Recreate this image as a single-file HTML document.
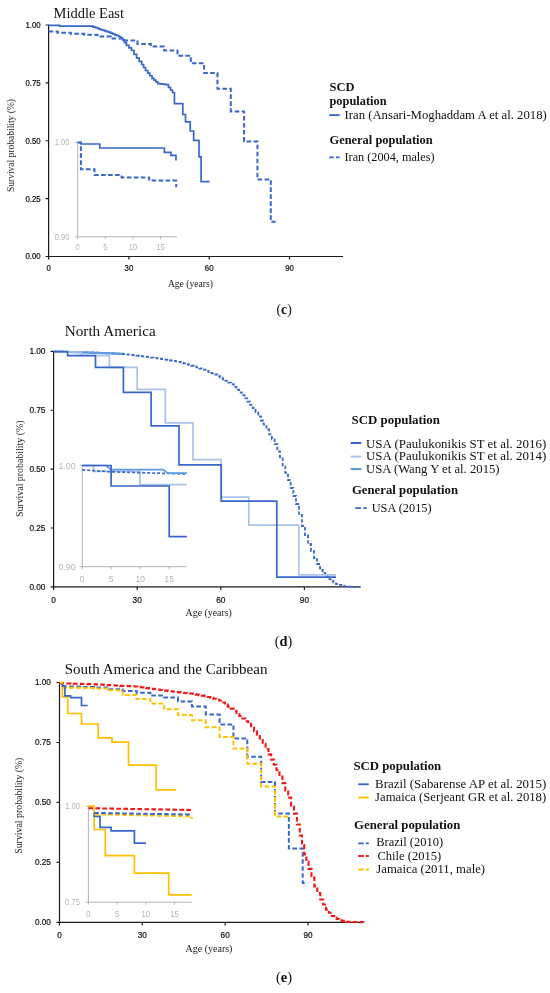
<!DOCTYPE html>
<html lang="en">
<head>
<meta charset="utf-8">
<title>Survival curves</title>
<style>
html,body{margin:0;padding:0;background:#fff;}
body{width:550px;height:993px;overflow:hidden;}
svg{display:block;}
</style>
</head>
<body>
<svg width="550" height="993" viewBox="0 0 550 993" stroke-linejoin="miter">
<rect width="550" height="993" fill="#ffffff"/>
<text x="53.5" y="18.2" font-family='"Liberation Serif", serif' font-size="14.5" fill="#111" textLength="70.5" lengthAdjust="spacingAndGlyphs">Middle East</text>
<path d="M48.6 24.5V256.5H343M45.6 256.5H48.6M45.6 198.62H48.6M45.6 140.75H48.6M45.6 82.88H48.6M45.6 25H48.6M48.6 256.5V259.5M128.91 256.5V259.5M209.22 256.5V259.5M289.53 256.5V259.5" fill="none" stroke="#1a1a1a" stroke-width="1.2"/>
<text x="25.38" y="259.46" font-family='"Liberation Sans", sans-serif' font-size="8.5" fill="#111" textLength="15.22" lengthAdjust="spacingAndGlyphs" stroke="#111" stroke-width="0.22">0.00</text>
<text x="25.38" y="201.58" font-family='"Liberation Sans", sans-serif' font-size="8.5" fill="#111" textLength="15.22" lengthAdjust="spacingAndGlyphs" stroke="#111" stroke-width="0.22">0.25</text>
<text x="25.38" y="143.71" font-family='"Liberation Sans", sans-serif' font-size="8.5" fill="#111" textLength="15.22" lengthAdjust="spacingAndGlyphs" stroke="#111" stroke-width="0.22">0.50</text>
<text x="25.38" y="85.83" font-family='"Liberation Sans", sans-serif' font-size="8.5" fill="#111" textLength="15.22" lengthAdjust="spacingAndGlyphs" stroke="#111" stroke-width="0.22">0.75</text>
<text x="25.38" y="27.96" font-family='"Liberation Sans", sans-serif' font-size="8.5" fill="#111" textLength="15.22" lengthAdjust="spacingAndGlyphs" stroke="#111" stroke-width="0.22">1.00</text>
<text x="46.43" y="270.7" font-family='"Liberation Sans", sans-serif' font-size="8.5" fill="#111" textLength="4.35" lengthAdjust="spacingAndGlyphs" stroke="#111" stroke-width="0.22">0</text>
<text x="124.56" y="270.7" font-family='"Liberation Sans", sans-serif' font-size="8.5" fill="#111" textLength="8.7" lengthAdjust="spacingAndGlyphs" stroke="#111" stroke-width="0.22">30</text>
<text x="204.87" y="270.7" font-family='"Liberation Sans", sans-serif' font-size="8.5" fill="#111" textLength="8.7" lengthAdjust="spacingAndGlyphs" stroke="#111" stroke-width="0.22">60</text>
<text x="285.18" y="270.7" font-family='"Liberation Sans", sans-serif' font-size="8.5" fill="#111" textLength="8.7" lengthAdjust="spacingAndGlyphs" stroke="#111" stroke-width="0.22">90</text>
<text x="167.9" y="286.6" font-family='"Liberation Serif", serif' font-size="9.5" fill="#222" textLength="45" lengthAdjust="spacingAndGlyphs">Age (years)</text>
<text transform="translate(14.2 145.5) rotate(-90)" x="-46.5" y="0" font-family='"Liberation Serif", serif' font-size="9.3" fill="#222" textLength="93" lengthAdjust="spacingAndGlyphs">Survival probability (%)</text>
<path d="M48.6 31.5V31.5H57.5V32.7H70.83V33.8H84.16V34.8H97.49V36.5H110.82V38.6H124.15V40.6H137.48V43.9H150.81V46.5H164.14V50.5H177.47V55.7H190.8V63.2H204.13V72.9H217.46V88.7H230.79V111.4H244.12V141.5H257.45V179.5H270.78V221.7H275.6" fill="none" stroke="#3867c9" stroke-width="2.0" stroke-dasharray="4.6 2.4"/>
<path d="M48.6 25.4H50.68V25.4H52.76V25.4H54.84V25.4H56.92V25.4H59V25.4H59.5V26.1H61.74V26.1H63.97V26.1H66.21V26.1H68.44V26.1H70.68V26.1H72.91V26.1H75.15V26.1H77.39V26.1H79.62V26.1H81.86V26.1H84.09V26.1H86.33V26.1H88.56V26.1H90.8V26.1H93.33V27.03H95.87V27.97H98.4V28.9H100.44V29.56H102.48V30.22H104.52V30.88H106.56V31.54H108.6V32.2H110.64V33.06H112.68V33.92H114.72V34.78H116.76V35.64H118.8V36.5H120.7V38.15H122.6V39.8H124.5V42.6H126.4V45.4H128.95V47.95H131.5V50.5H134.05V54.35H136.6V58.2H139.15V61.35H141.7V64.5H143.6V67.5H145.5V70.5H147.67V73.13H149.83V75.77H152V78.4H153.93V80.13H155.87V81.87H157.8V83.6H159.95V83.85H162.1V84.1H164.25V84.35H166.4V84.6H168.45V87.3H170.5V90H172.45V92.5H174.4V95V103.6H182.8V114.5H185.5V121.8H190.2V123.3V131H193.7V132V140.3H199V156.9H201.1V181.6H209.6" fill="none" stroke="#3867c9" stroke-width="1.7"/>
<path d="M77.7 142.5V236.8H177.06M75.2 142.5H77.7M75.2 236.8H77.7M77.7 236.8V239.3M105.3 236.8V239.3M132.9 236.8V239.3M160.5 236.8V239.3" fill="none" stroke="#b4b4b4" stroke-width="1"/>
<text x="54.7" y="145.28" font-family='"Liberation Sans", sans-serif' font-size="8.3" fill="#b4b4b4" textLength="14.7" lengthAdjust="spacingAndGlyphs">1.00</text>
<text x="54.7" y="239.58" font-family='"Liberation Sans", sans-serif' font-size="8.3" fill="#b4b4b4" textLength="14.7" lengthAdjust="spacingAndGlyphs">0.90</text>
<text x="75.6" y="250.4" font-family='"Liberation Sans", sans-serif' font-size="8.3" fill="#b4b4b4" textLength="4.19" lengthAdjust="spacingAndGlyphs">0</text>
<text x="103.2" y="250.4" font-family='"Liberation Sans", sans-serif' font-size="8.3" fill="#b4b4b4" textLength="4.19" lengthAdjust="spacingAndGlyphs">5</text>
<text x="128.71" y="250.4" font-family='"Liberation Sans", sans-serif' font-size="8.3" fill="#b4b4b4" textLength="8.38" lengthAdjust="spacingAndGlyphs">10</text>
<text x="156.31" y="250.4" font-family='"Liberation Sans", sans-serif' font-size="8.3" fill="#b4b4b4" textLength="8.38" lengthAdjust="spacingAndGlyphs">15</text>
<path d="M77.7 142.5H80.9V144H99.8V148H164.4V152.4H171V155.3H176V160.5" fill="none" stroke="#3867c9" stroke-width="1.7"/>
<path d="M77.7 142.5H80.9V169.3H94.5V175.1H121.6V177.4H149.2V180.6H176.2V187.3" fill="none" stroke="#3867c9" stroke-width="2.0" stroke-dasharray="4.6 2.4"/>
<text x="329.5" y="90.9" font-family='"Liberation Serif", serif' font-size="12" fill="#111" font-weight="bold" textLength="25" lengthAdjust="spacingAndGlyphs">SCD</text>
<text x="329.5" y="104.5" font-family='"Liberation Serif", serif' font-size="12" fill="#111" font-weight="bold" textLength="57" lengthAdjust="spacingAndGlyphs">population</text>
<path d="M329.2 115.1H339.7" fill="none" stroke="#3867c9" stroke-width="1.9"/>
<text x="344.5" y="118.9" font-family='"Liberation Serif", serif' font-size="12" fill="#111" textLength="202.3" lengthAdjust="spacingAndGlyphs">Iran (Ansari-Moghaddam A et al. 2018)</text>
<text x="329.5" y="144.1" font-family='"Liberation Serif", serif' font-size="12" fill="#111" font-weight="bold" textLength="103.2" lengthAdjust="spacingAndGlyphs">General population</text>
<path d="M329.2 157.4H339.7" fill="none" stroke="#3867c9" stroke-width="1.9" stroke-dasharray="4.6 2.2"/>
<text x="344.5" y="160.5" font-family='"Liberation Serif", serif' font-size="12" fill="#111" textLength="90" lengthAdjust="spacingAndGlyphs">Iran (2004, males)</text>
<text x="276.5" y="314" font-family='"Liberation Serif", serif' font-size="14.3" fill="#111" textLength="15.2" lengthAdjust="spacingAndGlyphs">(<tspan font-weight="bold">c</tspan>)</text>
<text x="64.7" y="336.1" font-family='"Liberation Serif", serif' font-size="15" fill="#111" textLength="91" lengthAdjust="spacingAndGlyphs">North America</text>
<path d="M53.6 350.9V586.9H360.5M50.6 586.9H53.6M50.6 528.02H53.6M50.6 469.15H53.6M50.6 410.27H53.6M50.6 351.4H53.6M53.6 586.9V589.9M137.21 586.9V589.9M220.82 586.9V589.9M304.43 586.9V589.9" fill="none" stroke="#1a1a1a" stroke-width="1.2"/>
<text x="29.39" y="589.55" font-family='"Liberation Sans", sans-serif' font-size="9.0" fill="#111" textLength="16.11" lengthAdjust="spacingAndGlyphs" stroke="#111" stroke-width="0.22">0.00</text>
<text x="29.39" y="530.68" font-family='"Liberation Sans", sans-serif' font-size="9.0" fill="#111" textLength="16.11" lengthAdjust="spacingAndGlyphs" stroke="#111" stroke-width="0.22">0.25</text>
<text x="29.39" y="471.8" font-family='"Liberation Sans", sans-serif' font-size="9.0" fill="#111" textLength="16.11" lengthAdjust="spacingAndGlyphs" stroke="#111" stroke-width="0.22">0.50</text>
<text x="29.39" y="412.93" font-family='"Liberation Sans", sans-serif' font-size="9.0" fill="#111" textLength="16.11" lengthAdjust="spacingAndGlyphs" stroke="#111" stroke-width="0.22">0.75</text>
<text x="29.39" y="354.05" font-family='"Liberation Sans", sans-serif' font-size="9.0" fill="#111" textLength="16.11" lengthAdjust="spacingAndGlyphs" stroke="#111" stroke-width="0.22">1.00</text>
<text x="51.3" y="602.8" font-family='"Liberation Sans", sans-serif' font-size="9.0" fill="#111" textLength="4.6" lengthAdjust="spacingAndGlyphs" stroke="#111" stroke-width="0.22">0</text>
<text x="132.61" y="602.8" font-family='"Liberation Sans", sans-serif' font-size="9.0" fill="#111" textLength="9.21" lengthAdjust="spacingAndGlyphs" stroke="#111" stroke-width="0.22">30</text>
<text x="216.22" y="602.8" font-family='"Liberation Sans", sans-serif' font-size="9.0" fill="#111" textLength="9.21" lengthAdjust="spacingAndGlyphs" stroke="#111" stroke-width="0.22">60</text>
<text x="299.83" y="602.8" font-family='"Liberation Sans", sans-serif' font-size="9.0" fill="#111" textLength="9.21" lengthAdjust="spacingAndGlyphs" stroke="#111" stroke-width="0.22">90</text>
<text x="185.6" y="616.4" font-family='"Liberation Serif", serif' font-size="9.5" fill="#222" textLength="46.2" lengthAdjust="spacingAndGlyphs">Age (years)</text>
<text transform="translate(23 468.8) rotate(-90)" x="-48.25" y="0" font-family='"Liberation Serif", serif' font-size="9.3" fill="#222" textLength="96.5" lengthAdjust="spacingAndGlyphs">Survival probability (%)</text>
<path d="M53.8 351.6H56.58V351.67H59.37V351.74H62.15V351.81H64.94V351.88H67.72V351.95H70.51V352.02H73.29V352.08H76.08V352.15H78.86V352.22H81.65V352.29H84.43V352.36H87.22V352.43H90V352.5H92.73V352.61H95.45V352.72H98.18V352.83H100.91V352.94H103.64V353.05H106.36V353.15H109.09V353.26H111.82V353.37H114.55V353.48H117.27V353.59H120V353.7H122.7V354.03H125.4V354.36H128.1V354.69H130.8V355.01H133.5V355.34H136.2V355.67H138.9V356H141.82V356.38H144.73V356.77H147.65V357.15H150.57V357.53H153.48V357.92H156.4V358.3H159.12V358.74H161.85V359.18H164.57V359.61H167.3V360.05H170.03V360.49H172.75V360.93H175.47V361.36H178.2V361.8H180.8V362.59H183.4V363.37H186V364.16H188.6V364.94H191.2V365.73H193.8V366.51H196.4V367.3H199.42V368.5H202.43V369.7H205.45V370.9H208.47V372.1H211.48V373.3H214.5V374.5H217.25V376.05H220V377.6H222.72V379.25H225.45V380.9H228.18V382.55H230.9V384.2H233.62V386.93H236.35V389.65H239.08V392.38H241.8V395.1H244.55V398.38H247.3V401.65H250.05V404.93H252.8V408.2H255.53V412.3H258.25V416.4H260.98V420.5H263.7V424.6H266.43V429.5H269.15V434.4H271.88V439.3H274.6V444.2H277.3V451.3H280V458.4H282.67V465.6H285.33V472.8H288V480H290.67V488H293.33V496H296V504H299V515H302V526H305V535H308V544H311V551H314V558H317V564H320V570H322.67V573.07H325.33V576.13H328V579.2H330.67V580.8H333.33V582.4H336V584H338.67V584.8H341.33V585.6H344V586.4H346.67V586.53H349.33V586.67H352V586.8H354.67V586.93H357.33V587.07H360V587.2" fill="none" stroke="#3867c9" stroke-width="1.8" stroke-dasharray="3.4 2"/>
<path d="M53.8 351.7L90 352.6L122 353.8" fill="none" stroke="#5b9be0" stroke-width="2.3"/>
<path d="M53.8 352H81.6V355.6H109.4V367.3H137.2V389.3H165.3V422.9H193V459.6H221.2V497.2H248.8V525.2H298.8V574.8H336" fill="none" stroke="#a9c3ea" stroke-width="1.7"/>
<path d="M53.8 351.6H67.6V355.6H95.5V367.3H123.4V392.4H151.1V425.9H179V464.8H221.2V501.2H276.8V577.2H336" fill="none" stroke="#3867c9" stroke-width="1.7"/>
<path d="M82.2 465.5V566.7H186.6M79.7 465.5H82.2M79.7 566.7H82.2M82.2 566.7V569.2M111.2 566.7V569.2M140.2 566.7V569.2M169.2 566.7V569.2" fill="none" stroke="#b4b4b4" stroke-width="1"/>
<text x="58.4" y="468.62" font-family='"Liberation Sans", sans-serif' font-size="9.3" fill="#b4b4b4" textLength="17.2" lengthAdjust="spacingAndGlyphs">1.00</text>
<text x="58.4" y="569.82" font-family='"Liberation Sans", sans-serif' font-size="9.3" fill="#b4b4b4" textLength="17.2" lengthAdjust="spacingAndGlyphs">0.90</text>
<text x="79.85" y="581.7" font-family='"Liberation Sans", sans-serif' font-size="9.3" fill="#b4b4b4" textLength="4.7" lengthAdjust="spacingAndGlyphs">0</text>
<text x="108.85" y="581.7" font-family='"Liberation Sans", sans-serif' font-size="9.3" fill="#b4b4b4" textLength="4.7" lengthAdjust="spacingAndGlyphs">5</text>
<text x="135.5" y="581.7" font-family='"Liberation Sans", sans-serif' font-size="9.3" fill="#b4b4b4" textLength="9.39" lengthAdjust="spacingAndGlyphs">10</text>
<text x="164.5" y="581.7" font-family='"Liberation Sans", sans-serif' font-size="9.3" fill="#b4b4b4" textLength="9.39" lengthAdjust="spacingAndGlyphs">15</text>
<path d="M82.2 465.5H93.6V471.3H140V484.6H186.9" fill="none" stroke="#a9c3ea" stroke-width="1.7"/>
<path d="M82.2 469.9L111.1 471.8L186.9 474" fill="none" stroke="#3867c9" stroke-width="1.7" stroke-dasharray="3 2"/>
<path d="M82.2 465.5L105.9 465.5L111.1 469.6L163.2 469.6L167.8 473.2L186.9 473.2" fill="none" stroke="#5b9be0" stroke-width="1.7"/>
<path d="M82.2 465.5H111.1V486H169.2V536.7H186.9" fill="none" stroke="#3867c9" stroke-width="1.7"/>
<text x="351.5" y="423.7" font-family='"Liberation Serif", serif' font-size="12.5" fill="#111" font-weight="bold" textLength="88.5" lengthAdjust="spacingAndGlyphs">SCD population</text>
<path d="M350.7 443H361.3" fill="none" stroke="#3867c9" stroke-width="2"/>
<text x="366" y="447.8" font-family='"Liberation Serif", serif' font-size="12.5" fill="#111" textLength="180.2" lengthAdjust="spacingAndGlyphs">USA (Paulukonikis ST et al. 2016)</text>
<path d="M350.7 456.6H361.3" fill="none" stroke="#a9c3ea" stroke-width="2"/>
<text x="366" y="460.3" font-family='"Liberation Serif", serif' font-size="12.5" fill="#111" textLength="180.2" lengthAdjust="spacingAndGlyphs">USA (Paulukonikis ST et al. 2014)</text>
<path d="M350.7 469H361.3" fill="none" stroke="#5b9be0" stroke-width="2"/>
<text x="366" y="472.9" font-family='"Liberation Serif", serif' font-size="12.5" fill="#111" textLength="133.6" lengthAdjust="spacingAndGlyphs">USA (Wang Y et al. 2015)</text>
<text x="351.9" y="494.3" font-family='"Liberation Serif", serif' font-size="12.5" fill="#111" font-weight="bold" textLength="106.1" lengthAdjust="spacingAndGlyphs">General population</text>
<path d="M355.3 508.1H366.7" fill="none" stroke="#3867c9" stroke-width="1.9" stroke-dasharray="5.6 2.4"/>
<text x="371.7" y="511.5" font-family='"Liberation Serif", serif' font-size="12.5" fill="#111" textLength="59.9" lengthAdjust="spacingAndGlyphs">USA (2015)</text>
<text x="274.7" y="645.5" font-family='"Liberation Serif", serif' font-size="14.3" fill="#111" textLength="17.6" lengthAdjust="spacingAndGlyphs">(<tspan font-weight="bold">d</tspan>)</text>
<text x="64.7" y="673.5" font-family='"Liberation Serif", serif' font-size="15" fill="#111" textLength="202.8" lengthAdjust="spacingAndGlyphs">South America and the Caribbean</text>
<path d="M59.5 682V922.4H363.5M56.5 922.4H59.5M56.5 862.42H59.5M56.5 802.45H59.5M56.5 742.48H59.5M56.5 682.5H59.5M59.5 922.4V925.4M142.33 922.4V925.4M225.16 922.4V925.4M307.99 922.4V925.4" fill="none" stroke="#1a1a1a" stroke-width="1.2"/>
<text x="34.97" y="925.23" font-family='"Liberation Sans", sans-serif' font-size="8.9" fill="#111" textLength="15.93" lengthAdjust="spacingAndGlyphs" stroke="#111" stroke-width="0.22">0.00</text>
<text x="34.97" y="865.25" font-family='"Liberation Sans", sans-serif' font-size="8.9" fill="#111" textLength="15.93" lengthAdjust="spacingAndGlyphs" stroke="#111" stroke-width="0.22">0.25</text>
<text x="34.97" y="805.28" font-family='"Liberation Sans", sans-serif' font-size="8.9" fill="#111" textLength="15.93" lengthAdjust="spacingAndGlyphs" stroke="#111" stroke-width="0.22">0.50</text>
<text x="34.97" y="745.3" font-family='"Liberation Sans", sans-serif' font-size="8.9" fill="#111" textLength="15.93" lengthAdjust="spacingAndGlyphs" stroke="#111" stroke-width="0.22">0.75</text>
<text x="34.97" y="685.33" font-family='"Liberation Sans", sans-serif' font-size="8.9" fill="#111" textLength="15.93" lengthAdjust="spacingAndGlyphs" stroke="#111" stroke-width="0.22">1.00</text>
<text x="57.22" y="937.5" font-family='"Liberation Sans", sans-serif' font-size="8.9" fill="#111" textLength="4.55" lengthAdjust="spacingAndGlyphs" stroke="#111" stroke-width="0.22">0</text>
<text x="137.78" y="937.5" font-family='"Liberation Sans", sans-serif' font-size="8.9" fill="#111" textLength="9.11" lengthAdjust="spacingAndGlyphs" stroke="#111" stroke-width="0.22">30</text>
<text x="220.61" y="937.5" font-family='"Liberation Sans", sans-serif' font-size="8.9" fill="#111" textLength="9.11" lengthAdjust="spacingAndGlyphs" stroke="#111" stroke-width="0.22">60</text>
<text x="303.44" y="937.5" font-family='"Liberation Sans", sans-serif' font-size="8.9" fill="#111" textLength="9.11" lengthAdjust="spacingAndGlyphs" stroke="#111" stroke-width="0.22">90</text>
<text x="185.55" y="951.8" font-family='"Liberation Serif", serif' font-size="9.5" fill="#222" textLength="46.9" lengthAdjust="spacingAndGlyphs">Age (years)</text>
<text transform="translate(22.3 805.7) rotate(-90)" x="-48.1" y="0" font-family='"Liberation Serif", serif' font-size="9.3" fill="#222" textLength="96.2" lengthAdjust="spacingAndGlyphs">Survival probability (%)</text>
<path d="M62.3 686.6V686.6H80.2V687H94V687.4H108.8V689.3H122.65V691H136.5V692.7H150.35V695.6H164.2V697.6H178.05V701.4H191.9V706.6H205.75V714.5H219.6V724.4H233.45V738.4H247.3V756.7H261.15V782.1H275V813.6H288.85V848.5H302.7V882.9H306.2" fill="none" stroke="#3867c9" stroke-width="2.0" stroke-dasharray="4.6 2.4"/>
<path d="M62.3 687.8V687.8H80.2V688.1H94V688.4H108.8V690.3H122.65V695H136.5V699.1H150.35V703.5H164.2V709.3H178.05V715.1H191.9V720.2H205.75V727.3H219.6V736.9H233.45V748.5H247.3V763.7H261.15V786.5H275V816.5H289.6" fill="none" stroke="#ffc000" stroke-width="2.0" stroke-dasharray="4.6 2.4"/>
<path d="M59.5 683.3H62.29V683.39H65.09V683.47H67.88V683.56H70.67V683.64H73.46V683.73H76.26V683.81H79.05V683.9H81.84V683.99H84.64V684.07H87.43V684.16H90.22V684.24H93.01V684.33H95.81V684.41H98.6V684.5H101.28V684.67H103.96V684.83H106.63V685H109.31V685.17H111.99V685.33H114.67V685.5H117.34V685.67H120.02V685.83H122.7V686H125.78V686.12H128.85V686.25H131.93V686.38H135V686.5H137.8V686.9H140.6V687.3H143.4V687.7H146.2V688.1H149V688.5H151.8V688.9H154.45V689.25H157.09V689.59H159.74V689.94H162.38V690.28H165.03V690.63H167.67V690.97H170.32V691.32H172.96V691.66H175.61V692.01H178.25V692.35H180.9V692.7H183.93V692.97H186.97V693.23H190V693.5H192.9V694.04H195.8V694.58H198.7V695.12H201.6V695.66H204.5V696.2H207.42V697.06H210.34V697.92H213.26V698.78H216.18V699.64H219.1V700.5H222V702.54H224.9V704.58H227.8V706.62H230.7V708.66H233.6V710.7H236.52V713.32H239.44V715.94H242.36V718.56H245.28V721.18H248.2V723.8H251.1V727.45H254V731.1H256.9V734.75H259.8V738.4H262.7V743.73H265.6V749.07H268.5V754.4H271.17V759.6H273.83V764.8H276.5V770H279.45V776.55H282.4V783.1H285.3V790.35H288.2V797.6H291.1V805.6H294V813.6H296.9V824.55H299.8V835.5H302V844.95H304.2V854.4H306.35V861.65H308.5V868.9H311.45V877.65H314.4V886.4H317.3V892.95H320.2V899.5H323.1V904.55H326V909.6H328.9V912.8H331.8V916H334.23V917.47H336.67V918.93H339.1V920.4H341.53V920.9H343.97V921.4H346.4V921.9H349.25V921.95H352.1V922H354.95V922.05H357.8V922.1H360.65V922.15H363.5V922.2" fill="none" stroke="#f01818" stroke-width="2.1" stroke-dasharray="4.6 2.4"/>
<path d="M59.5 682.6H62.3V696.8H67.7V713.5H81.5V724H98.2V737.8H112V742.1H128.5V765.1H156.2V789.9H176" fill="none" stroke="#ffc000" stroke-width="1.7"/>
<path d="M62.3 684V685.9H64.9V695.8H70.6V697.6H81.5V705.5H87.8" fill="none" stroke="#3867c9" stroke-width="1.7"/>
<path d="M88.4 806.2V902.2H191.72M85.9 806.2H88.4M85.9 902.2H88.4M88.4 902.2V904.7M117.1 902.2V904.7M145.8 902.2V904.7M174.5 902.2V904.7" fill="none" stroke="#b4b4b4" stroke-width="1"/>
<text x="65.1" y="808.98" font-family='"Liberation Sans", sans-serif' font-size="8.3" fill="#b4b4b4" textLength="14.8" lengthAdjust="spacingAndGlyphs">1.00</text>
<text x="65.1" y="904.98" font-family='"Liberation Sans", sans-serif' font-size="8.3" fill="#b4b4b4" textLength="14.8" lengthAdjust="spacingAndGlyphs">0.75</text>
<text x="86.3" y="916.7" font-family='"Liberation Sans", sans-serif' font-size="8.3" fill="#b4b4b4" textLength="4.19" lengthAdjust="spacingAndGlyphs">0</text>
<text x="115" y="916.7" font-family='"Liberation Sans", sans-serif' font-size="8.3" fill="#b4b4b4" textLength="4.19" lengthAdjust="spacingAndGlyphs">5</text>
<text x="141.61" y="916.7" font-family='"Liberation Sans", sans-serif' font-size="8.3" fill="#b4b4b4" textLength="8.38" lengthAdjust="spacingAndGlyphs">10</text>
<text x="170.31" y="916.7" font-family='"Liberation Sans", sans-serif' font-size="8.3" fill="#b4b4b4" textLength="8.38" lengthAdjust="spacingAndGlyphs">15</text>
<path d="M88.4 806.2H94.2V829.5H105.3V855.6H134.4V873.1H168.7V894.9H191.7" fill="none" stroke="#ffc000" stroke-width="1.7"/>
<path d="M94.2 813V816.4H100V827.4H111.1V830.9H134.4V843.1H146" fill="none" stroke="#3867c9" stroke-width="1.7"/>
<path d="M94.2 814.3L191.7 816.4V819" fill="none" stroke="#ffc000" stroke-width="2.0" stroke-dasharray="4.6 2.4"/>
<path d="M94.2 812.9L191.7 814.6" fill="none" stroke="#3867c9" stroke-width="2.0" stroke-dasharray="4.6 2.4"/>
<path d="M88.4 808.2L191.7 810" fill="none" stroke="#f01818" stroke-width="2.1" stroke-dasharray="4.6 2.4"/>
<text x="353.4" y="769.8" font-family='"Liberation Serif", serif' font-size="12.5" fill="#111" font-weight="bold" textLength="87.8" lengthAdjust="spacingAndGlyphs">SCD population</text>
<path d="M358.2 784.3H368.8" fill="none" stroke="#3867c9" stroke-width="1.9"/>
<text x="375.1" y="787.7" font-family='"Liberation Serif", serif' font-size="12.5" fill="#111" textLength="171.1" lengthAdjust="spacingAndGlyphs">Brazil (Sabarense AP et al. 2015)</text>
<path d="M358.2 797.6H368.8" fill="none" stroke="#ffc000" stroke-width="1.9"/>
<text x="375.1" y="801" font-family='"Liberation Serif", serif' font-size="12.5" fill="#111" textLength="171.1" lengthAdjust="spacingAndGlyphs">Jamaica (Serjeant GR et al. 2018)</text>
<text x="354.1" y="828.6" font-family='"Liberation Serif", serif' font-size="12.5" fill="#111" font-weight="bold" textLength="106.2" lengthAdjust="spacingAndGlyphs">General population</text>
<path d="M358.2 843.4H368.8" fill="none" stroke="#3867c9" stroke-width="1.9" stroke-dasharray="5.5 2.1"/>
<text x="376.3" y="846.1" font-family='"Liberation Serif", serif' font-size="12.5" fill="#111" textLength="66.8" lengthAdjust="spacingAndGlyphs">Brazil (2010)</text>
<path d="M358.2 856H368.8" fill="none" stroke="#f01818" stroke-width="1.9" stroke-dasharray="5.5 2.1"/>
<text x="377.4" y="860.1" font-family='"Liberation Serif", serif' font-size="12.5" fill="#111" textLength="63.8" lengthAdjust="spacingAndGlyphs">Chile (2015)</text>
<path d="M358.2 869.5H368.8" fill="none" stroke="#ffc000" stroke-width="1.9" stroke-dasharray="5.5 2.1"/>
<text x="376.3" y="873.1" font-family='"Liberation Serif", serif' font-size="12.5" fill="#111" textLength="108.8" lengthAdjust="spacingAndGlyphs">Jamaica (2011, male)</text>
<text x="276" y="981.6" font-family='"Liberation Serif", serif' font-size="14.3" fill="#111" textLength="16.2" lengthAdjust="spacingAndGlyphs">(<tspan font-weight="bold">e</tspan>)</text>
</svg>
</body>
</html>
